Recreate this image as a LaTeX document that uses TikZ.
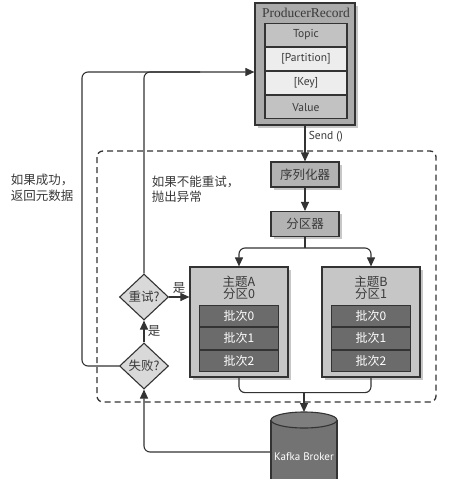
\documentclass[tikz,border=0pt]{standalone}
\usepackage{fontspec}
\setmainfont{PT Sans}
\newfontfamily\cjk{Noto Sans CJK SC}
\newfontfamily\recserif{Liberation Serif}
\usetikzlibrary{positioning,shapes.geometric,arrows.meta,shadows}

\definecolor{linegray}{HTML}{333333}
\definecolor{textgray}{HTML}{3A3A3A}
\definecolor{recgray}{HTML}{ABABAB}
\definecolor{topicfield}{HTML}{C2C2C2}
\definecolor{lightfield}{HTML}{EDEDED}
\definecolor{stagegray}{HTML}{B3B3B3}
\definecolor{topicgray}{HTML}{C6C6C6}
\definecolor{batchgray}{HTML}{6B6B6B}
\definecolor{decidegray}{HTML}{D9D9D9}
\definecolor{brokergray}{HTML}{737373}
\definecolor{brokerlid}{HTML}{7E7E7E}

\begin{document}
\begin{tikzpicture}[x=1pt,y=-1pt,line width=1.1pt,color=linegray]
\tikzset{flow/.style={-{Triangle[length=9pt,width=8pt]},rounded corners=6pt},
	shadowed/.style={drop shadow={shadow xshift=2.5pt,shadow yshift=-2.5pt,fill=black!22,opacity=1}},
	field/.style={draw,minimum width=82pt,minimum height=23pt,inner sep=0pt,
		font=\fontsize{11.5}{13}\selectfont,text=textgray},
	stage/.style={draw,shadowed,fill=stagegray,minimum width=68pt,minimum height=25pt,
		inner sep=0pt,font=\cjk\fontsize{12.5}{14}\selectfont,text=textgray},
	topicbox/.style={draw,shadowed,fill=topicgray,minimum width=98pt,minimum height=110pt,line width=1.2pt},
	batch/.style={draw,fill=batchgray,minimum width=79pt,minimum height=21.3pt,inner sep=0pt,
		text=white,font=\cjk\fontsize{12}{13}\selectfont},
	decide/.style={diamond,draw,fill=decidegray,minimum width=49pt,minimum height=46pt,
		inner sep=0pt,font=\cjk\fontsize{12.5}{14}\selectfont,text=textgray},
	note/.style={font=\cjk\fontsize{12.5}{15.5}\selectfont,text=textgray}
}
\clip (0,0) rectangle (474,479);
\fill[white] (0,0) rectangle (474,479);

% ProducerRecord
\node[draw,shadowed,fill=recgray,minimum width=100pt,minimum height=122pt,line width=1.2pt] (rec) at (305,64) {};
\node[font=\recserif\fontsize{13.5}{15}\selectfont,text=textgray] (rectitle) at (306,13) {ProducerRecord};
\node[field,fill=topicfield] (topic) at (306,35) {Topic};
\node[field,fill=lightfield,below=0pt of topic] (partition) {[Partition]};
\node[field,fill=lightfield,below=0pt of partition] (key) {[Key]};
\node[field,fill=topicfield,below=0pt of key] (value) {Value};

% producer stages
\node[stage] (ser) at (305,174.5) {序列化器};
\node[stage] (part) at (305,224) {分区器};
\draw[flow] (rec) -- (ser) node[pos=0.3,anchor=west,font=\fontsize{11.5}{13}\selectfont,text=textgray] (send) {Send ()};
\draw[flow] (ser) -- (part);

% partitions
\node[topicbox] (tA) at (239,322) {};
\node[topicbox] (tB) at (371,322) {};
\node[font=\cjk\fontsize{12.5}{12.5}\selectfont,align=center,text=textgray] (tAname) at (239,288) {主题A\\分区0};
\node[font=\cjk\fontsize{12.5}{12.5}\selectfont,align=center,text=textgray] (tBname) at (371,288) {主题B\\分区1};
\node[batch] (a0) at (239,316) {批次0};
\node[batch,below=0pt of a0] (a1) {批次1};
\node[batch,below=0pt of a1] (a2) {批次2};
\node[batch] (b0) at (371,316) {批次0};
\node[batch,below=0pt of b0] (b1) {批次1};
\node[batch,below=0pt of b1] (b2) {批次2};

\coordinate (split) at (305,248);
\draw (part) -- (split);
\draw[flow] (split) -| (tA.north);
\draw[flow] (split) -| (tB.north);

% broker
\fill[brokergray] (271,420) rectangle (337,500);
\draw (271,420) -- (271,500) (337,420) -- (337,500);
\draw[fill=brokerlid] (304,420) ellipse (33pt and 8pt);
\node[text=white,font=\fontsize{11}{12}\selectfont] (broker) at (304,457) {Kafka Broker};
\coordinate (brokertop) at (304,412);
\coordinate (brokerleft) at (271,452);
\coordinate (merge) at (304,392);
\draw[rounded corners=6pt] (tA.south) -- ++(0,15) -| (tB.south);
\draw[flow] (merge) -- (brokertop);

% decisions
\node[decide] (fail) at (144,366) {失败?};
\node[decide] (retry) at (144,297) {重试?};
\draw[flow] (brokerleft) -| (fail.south);
\draw[flow] (fail) -- (retry) node[midway,right,font=\cjk\fontsize{12.5}{14}\selectfont,text=textgray] (yes1) {是};
\draw[flow] (retry.east) -- (retry.east -| tA.west) node[midway,above,font=\cjk\fontsize{12.5}{14}\selectfont,text=textgray] (yes2) {是};
\coordinate (backtop) at (82,72);
\draw[flow] (fail.west) -| (backtop) -- (backtop -| rec.west);
\draw[rounded corners=6pt] (retry.north) |- (200,72);

% notes
\node[note,align=center] (oktext) at (42,188) {如果成功，\\返回元数据};
\node[note,align=left,anchor=north west] (errtext) at (148,172) {如果不能重试，\\抛出异常};

% producer boundary
\draw[dashed,dash pattern=on 6pt off 4pt,line width=1.3pt,rounded corners=6pt] (97,151) rectangle (436,402);
\end{tikzpicture}
\end{document}
